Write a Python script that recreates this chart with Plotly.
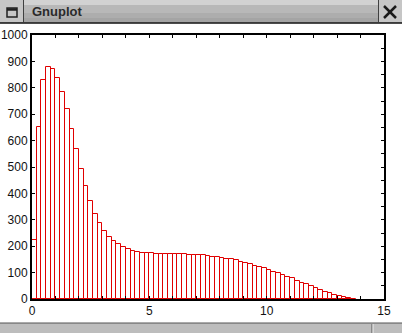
import plotly.graph_objects as go

# ---- data: histogram bins of width 0.2 starting at 0 ----
bin_width = 0.2
counts = [222, 651, 830, 878, 872, 838, 784, 719, 644, 567,
          493, 429, 371, 323, 289, 258, 236, 221, 207, 198,
          189, 181, 178, 175, 174, 173, 172, 171, 170, 170,
          170, 169, 169, 168, 167, 166, 165, 163, 161, 158,
          156, 153, 150, 146, 141, 136, 131, 126, 121, 116,
          110, 103, 97, 91, 85, 78, 70, 62, 55, 48,
          41, 34, 28, 22, 17, 12, 8, 4, 1]
bin_centers = [bin_width * (i + 0.5) for i in range(len(counts))]
x_ticks = [0, 5, 10, 15]
y_ticks = list(range(0, 1001, 100))
window_title = "Gnuplot"

W, H = 402, 333
L, R, T, B = 32, 18, 35, 34
PW, PH = W - L - R, H - T - B


def px(x):
    return (x - L) / PW


def py(y):
    return (H - B - y) / PH


fig = go.Figure()
fig.add_trace(go.Bar(
    x=bin_centers, y=counts, width=bin_width,
    marker=dict(color="rgba(255,255,255,0)", line=dict(color="#e00000", width=1)),
    showlegend=False, hoverinfo="skip"))
fig.add_trace(go.Scatter(x=[0], y=[0], yaxis="y2", mode="markers",
                         marker=dict(opacity=0), showlegend=False, hoverinfo="skip"))

fig.update_layout(
    template="none",
    width=W, height=H,
    margin=dict(l=L, r=R, t=T, b=B, pad=0, autoexpand=False),
    paper_bgcolor="white", plot_bgcolor="white",
    bargap=0,
    font=dict(family="Liberation Sans, Arial, sans-serif", size=12, color="#111"),
    xaxis=dict(range=[0, 15], tickvals=x_ticks, ticks="inside", ticklen=3,
               tickcolor="black", showline=True, linecolor="black", linewidth=2,
               mirror="ticks", showgrid=False, zeroline=False, automargin=False,
               minor=dict(dtick=1, ticks="inside", ticklen=3, tickcolor="black", showgrid=False)),
    yaxis=dict(range=[0, 1000], tickvals=y_ticks, ticks="inside", ticklen=3,
               tickcolor="black", showline=True, linecolor="black", linewidth=2,
               mirror=True, showgrid=False, zeroline=False, automargin=False),
    yaxis2=dict(range=[0, 1000], overlaying="y", side="right", dtick=50,
                ticks="inside", ticklen=3, tickcolor="black", showticklabels=False,
                showline=False, showgrid=False, zeroline=False, automargin=False),
)

shapes = []
# title bar
shapes.append(dict(type="rect", xref="paper", yref="paper", x0=px(0), x1=px(W), y0=py(23), y1=py(0),
                   fillcolor="#b8b8b8", line=dict(width=0), layer="above"))
shapes.append(dict(type="rect", xref="paper", yref="paper", x0=px(0), x1=px(W), y0=py(5), y1=py(0),
                   fillcolor="#d2d2d2", line=dict(width=0), layer="above"))
shapes.append(dict(type="rect", xref="paper", yref="paper", x0=px(0), x1=px(W), y0=py(18), y1=py(13),
                   fillcolor="#adadad", line=dict(width=0), layer="above"))
shapes.append(dict(type="rect", xref="paper", yref="paper", x0=px(0), x1=px(W), y0=py(22), y1=py(18),
                   fillcolor="#a4a4a4", line=dict(width=0), layer="above"))
# icon boxes
shapes.append(dict(type="rect", xref="paper", yref="paper", x0=px(0), x1=px(23), y0=py(22), y1=py(0),
                   fillcolor="#c6c6c6", line=dict(width=0), layer="above"))
shapes.append(dict(type="rect", xref="paper", yref="paper", x0=px(378), x1=px(W), y0=py(22), y1=py(0),
                   fillcolor="#c6c6c6", line=dict(width=0), layer="above"))
shapes.append(dict(type="line", xref="paper", yref="paper", x0=px(23.5), x1=px(23.5), y0=py(22), y1=py(0),
                   line=dict(color="#404040", width=1), layer="above"))
shapes.append(dict(type="line", xref="paper", yref="paper", x0=px(378.5), x1=px(378.5), y0=py(22), y1=py(0),
                   line=dict(color="#404040", width=1), layer="above"))
# window icon
shapes.append(dict(type="rect", xref="paper", yref="paper", x0=px(7), x1=px(17), y0=py(17), y1=py(8),
                   fillcolor="rgba(0,0,0,0)", line=dict(color="#202020", width=1.5), layer="above"))
shapes.append(dict(type="line", xref="paper", yref="paper", x0=px(7), x1=px(17), y0=py(9.5), y1=py(9.5),
                   line=dict(color="#202020", width=2.5), layer="above"))
# close "X" glyph
shapes.append(dict(type="line", xref="paper", yref="paper", x0=px(384), x1=px(396), y0=py(6), y1=py(18),
                   line=dict(color="#1a1a1a", width=2.5), layer="above"))
shapes.append(dict(type="line", xref="paper", yref="paper", x0=px(384), x1=px(396), y0=py(18), y1=py(6),
                   line=dict(color="#1a1a1a", width=2.5), layer="above"))
# line under title bar
shapes.append(dict(type="line", xref="paper", yref="paper", x0=px(0), x1=px(W), y0=py(23), y1=py(23),
                   line=dict(color="#111", width=1.5), layer="above"))
# status bar
shapes.append(dict(type="rect", xref="paper", yref="paper", x0=px(0), x1=px(W), y0=py(H), y1=py(323),
                   fillcolor="#bdbdbd", line=dict(width=0), layer="above"))
shapes.append(dict(type="line", xref="paper", yref="paper", x0=px(0), x1=px(W), y0=py(323), y1=py(323),
                   line=dict(color="#555", width=1), layer="above"))
shapes.append(dict(type="line", xref="paper", yref="paper", x0=px(372), x1=px(372), y0=py(H), y1=py(324),
                   line=dict(color="#555", width=1), layer="above"))
shapes.append(dict(type="line", xref="paper", yref="paper", x0=px(373), x1=px(373), y0=py(H), y1=py(324),
                   line=dict(color="#eee", width=1), layer="above"))
fig.update_layout(shapes=shapes)

fig.add_annotation(xref="paper", yref="paper", x=px(30), y=py(12), text="<b>" + window_title + "</b>",
                   showarrow=False, xanchor="left", yanchor="middle",
                   font=dict(family="Liberation Sans, Arial, sans-serif", size=13, color="#2a2a2a"))

fig.write_html("out.html")
